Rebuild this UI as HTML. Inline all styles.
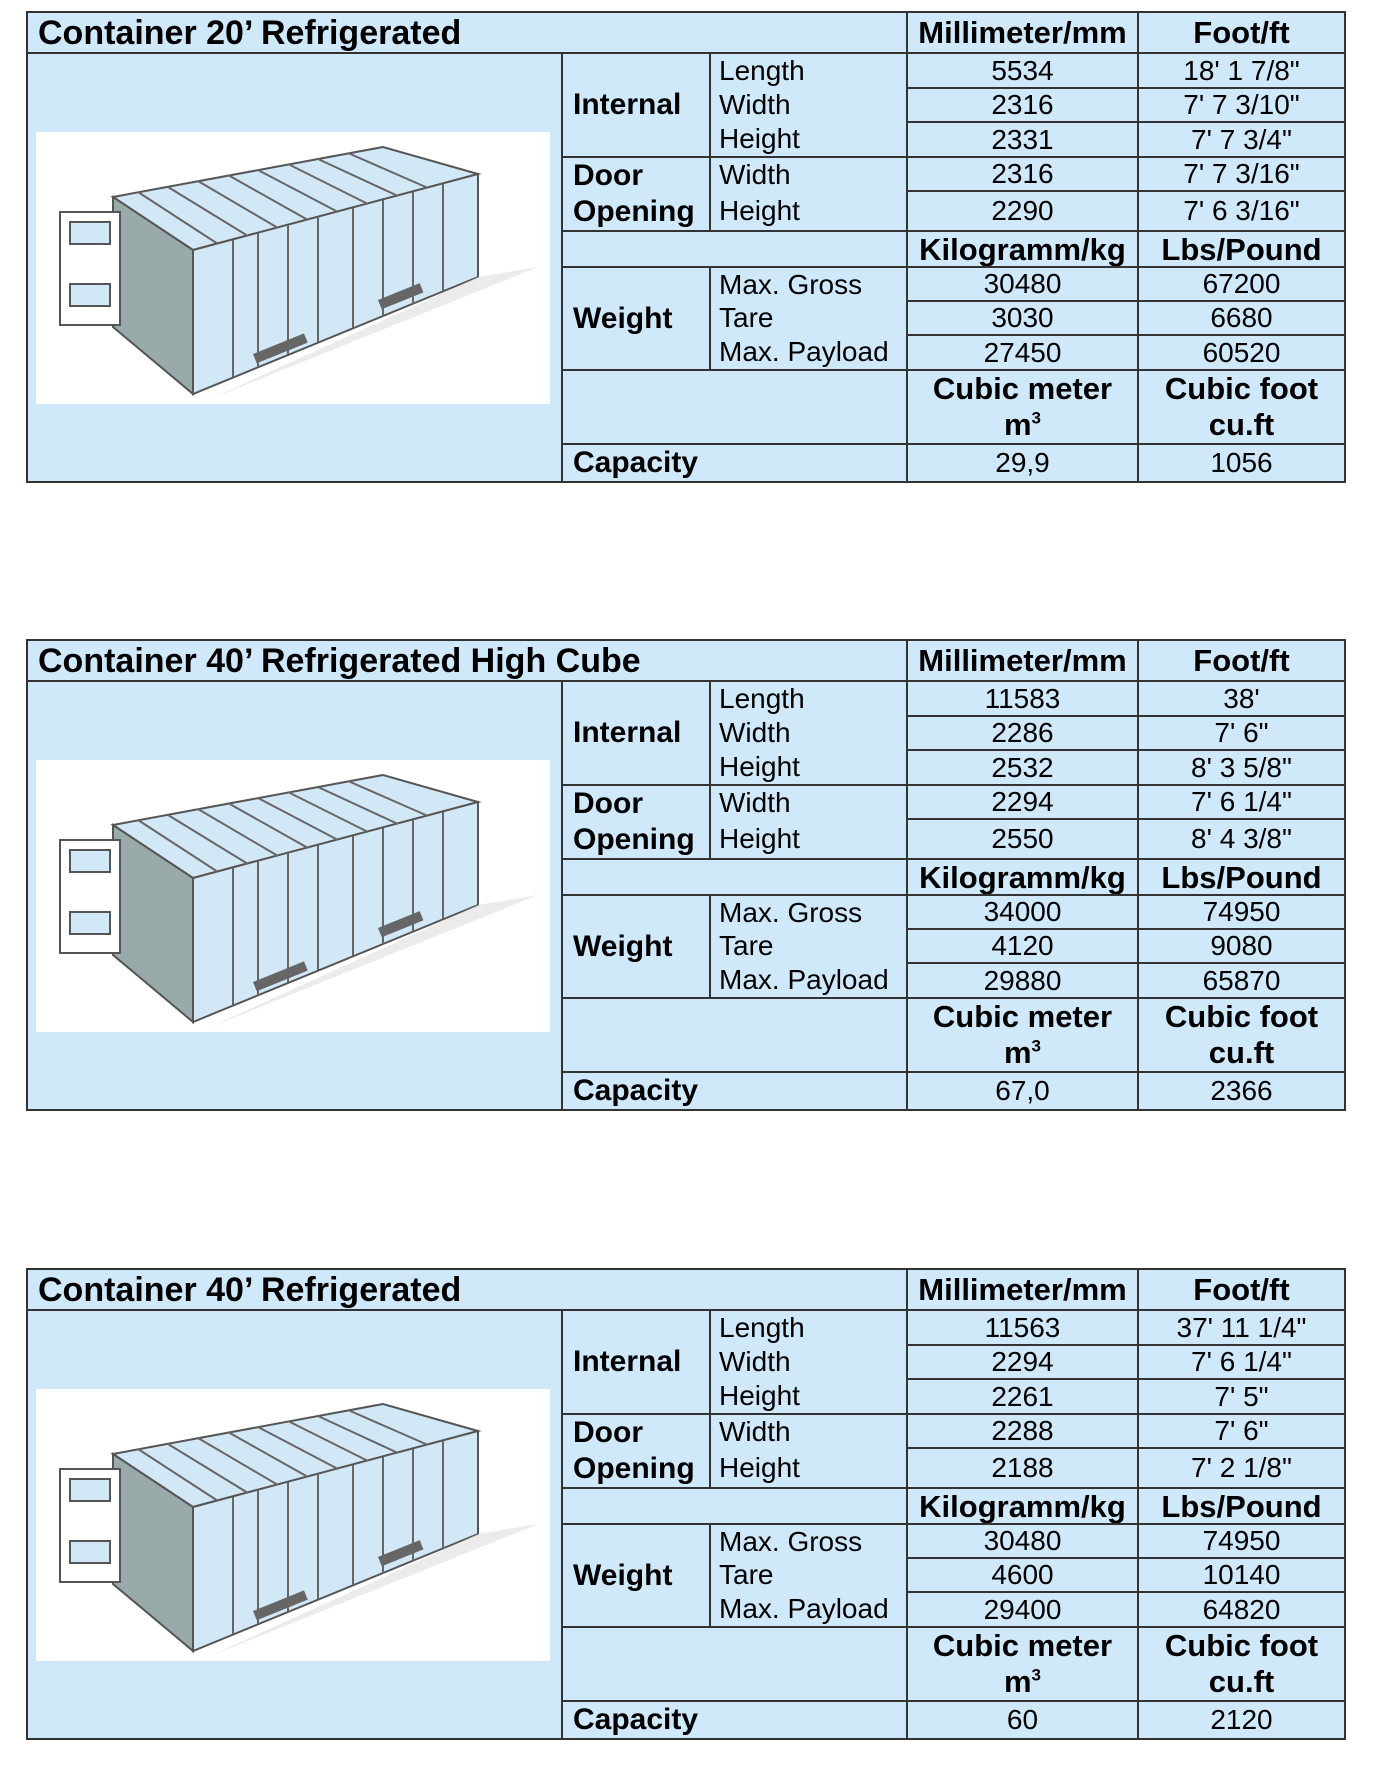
<!DOCTYPE html>
<html><head><meta charset="utf-8">
<style>
body{margin:0;background:#fff;width:1400px;height:1772px;position:relative;font-family:"Liberation Sans",Arial,sans-serif;}
table{position:absolute;left:26px;border-collapse:collapse;table-layout:fixed;background:#cfe9fb;}
td{border:2px solid #333;padding:0;font-size:28px;color:#000;line-height:1;white-space:nowrap;overflow:hidden;}
.b{font-weight:bold;font-size:30px}
.t{font-size:34px;font-weight:bold;padding-left:10px}
.c{text-align:center}
.l{padding-left:10px}
.s{padding-left:8px}
.nt{border-top:hidden}
.h{font-size:31px;font-weight:bold;text-align:center}
.img{vertical-align:middle;padding:0 8px}
</style></head><body>

<table style="top:11px">
<colgroup><col style="width:535px"><col style="width:148px"><col style="width:197px"><col style="width:231px"><col style="width:207px"></colgroup>
<tr style="height:41px"><td colspan="3" class="t">Container 20’ Refrigerated</td><td class="h">Millimeter/mm</td><td class="h">Foot/ft</td></tr>
<tr style="height:35px"><td rowspan="11" class="img"><svg width="514" height="272" viewBox="0 0 510 272" style="display:block;background:#fff"><g stroke="#555" stroke-width="2" fill="#d3e8f6"><polygon points="75,65 345,15 440,42 155,118"/><polygon points="155,118 440,42 440,145 155,262"/><polygon points="75,65 155,118 155,262 75,195" fill="#9aa"/><rect x="22" y="80" width="60" height="113" fill="#fff"/><rect x="32" y="90" width="40" height="22"/><rect x="32" y="152" width="40" height="22"/></g><polygon points="440,145 500,135 170,268" fill="#ddd" opacity=".6"/><g stroke="#666" stroke-width="2"><line x1="100" y1="60" x2="180" y2="112"/><line x1="130" y1="55" x2="210" y2="104"/><line x1="160" y1="49" x2="240" y2="96"/><line x1="190" y1="43" x2="270" y2="88"/><line x1="220" y1="38" x2="300" y2="80"/><line x1="250" y1="32" x2="330" y2="72"/><line x1="280" y1="27" x2="360" y2="64"/><line x1="310" y1="21" x2="390" y2="56"/><line x1="195" y1="108" x2="195" y2="245"/><line x1="220" y1="101" x2="220" y2="235"/><line x1="250" y1="93" x2="250" y2="222"/><line x1="280" y1="85" x2="280" y2="210"/><line x1="315" y1="76" x2="315" y2="196"/><line x1="345" y1="68" x2="345" y2="184"/><line x1="375" y1="60" x2="375" y2="172"/><line x1="405" y1="52" x2="405" y2="159"/></g><rect x="215" y="222" width="55" height="10" fill="#666" transform="rotate(-22 215 222)"/><rect x="340" y="168" width="45" height="10" fill="#666" transform="rotate(-22 340 168)"/></svg></td><td rowspan="3" class="b l">Internal</td><td class="s">Length</td><td class="c">5534</td><td class="c">18' 1 7/8"</td></tr>
<tr style="height:34px"><td class="s nt">Width</td><td class="c">2316</td><td class="c">7' 7 3/10"</td></tr>
<tr style="height:35px"><td class="s nt">Height</td><td class="c">2331</td><td class="c">7' 7 3/4"</td></tr>
<tr style="height:34px"><td rowspan="2" class="b l" style="line-height:1.2">Door<br>Opening</td><td class="s">Width</td><td class="c">2316</td><td class="c">7' 7 3/16"</td></tr>
<tr style="height:40px"><td class="s nt">Height</td><td class="c">2290</td><td class="c">7' 6 3/16"</td></tr>
<tr style="height:36px"><td colspan="2"></td><td class="h">Kilogramm/kg</td><td class="h">Lbs/Pound</td></tr>
<tr style="height:34px"><td rowspan="3" class="b l">Weight</td><td class="s">Max. Gross</td><td class="c">30480</td><td class="c">67200</td></tr>
<tr style="height:34px"><td class="s nt">Tare</td><td class="c">3030</td><td class="c">6680</td></tr>
<tr style="height:35px"><td class="s nt">Max. Payload</td><td class="c">27450</td><td class="c">60520</td></tr>
<tr style="height:74px"><td colspan="2"></td><td class="h" style="line-height:1.15">Cubic meter<br>m<sup style="font-size:17px">3</sup></td><td class="h" style="line-height:1.15">Cubic foot<br>cu.ft</td></tr>
<tr style="height:38px"><td colspan="2" class="b l">Capacity</td><td class="c">29,9</td><td class="c">1056</td></tr>
</table>

<table style="top:639px">
<colgroup><col style="width:535px"><col style="width:148px"><col style="width:197px"><col style="width:231px"><col style="width:207px"></colgroup>
<tr style="height:41px"><td colspan="3" class="t">Container 40’ Refrigerated High Cube</td><td class="h">Millimeter/mm</td><td class="h">Foot/ft</td></tr>
<tr style="height:35px"><td rowspan="11" class="img"><svg width="514" height="272" viewBox="0 0 510 272" style="display:block;background:#fff"><g stroke="#555" stroke-width="2" fill="#d3e8f6"><polygon points="75,65 345,15 440,42 155,118"/><polygon points="155,118 440,42 440,145 155,262"/><polygon points="75,65 155,118 155,262 75,195" fill="#9aa"/><rect x="22" y="80" width="60" height="113" fill="#fff"/><rect x="32" y="90" width="40" height="22"/><rect x="32" y="152" width="40" height="22"/></g><polygon points="440,145 500,135 170,268" fill="#ddd" opacity=".6"/><g stroke="#666" stroke-width="2"><line x1="100" y1="60" x2="180" y2="112"/><line x1="130" y1="55" x2="210" y2="104"/><line x1="160" y1="49" x2="240" y2="96"/><line x1="190" y1="43" x2="270" y2="88"/><line x1="220" y1="38" x2="300" y2="80"/><line x1="250" y1="32" x2="330" y2="72"/><line x1="280" y1="27" x2="360" y2="64"/><line x1="310" y1="21" x2="390" y2="56"/><line x1="195" y1="108" x2="195" y2="245"/><line x1="220" y1="101" x2="220" y2="235"/><line x1="250" y1="93" x2="250" y2="222"/><line x1="280" y1="85" x2="280" y2="210"/><line x1="315" y1="76" x2="315" y2="196"/><line x1="345" y1="68" x2="345" y2="184"/><line x1="375" y1="60" x2="375" y2="172"/><line x1="405" y1="52" x2="405" y2="159"/></g><rect x="215" y="222" width="55" height="10" fill="#666" transform="rotate(-22 215 222)"/><rect x="340" y="168" width="45" height="10" fill="#666" transform="rotate(-22 340 168)"/></svg></td><td rowspan="3" class="b l">Internal</td><td class="s">Length</td><td class="c">11583</td><td class="c">38'</td></tr>
<tr style="height:34px"><td class="s nt">Width</td><td class="c">2286</td><td class="c">7' 6"</td></tr>
<tr style="height:35px"><td class="s nt">Height</td><td class="c">2532</td><td class="c">8' 3 5/8"</td></tr>
<tr style="height:34px"><td rowspan="2" class="b l" style="line-height:1.2">Door<br>Opening</td><td class="s">Width</td><td class="c">2294</td><td class="c">7' 6 1/4"</td></tr>
<tr style="height:40px"><td class="s nt">Height</td><td class="c">2550</td><td class="c">8' 4 3/8"</td></tr>
<tr style="height:36px"><td colspan="2"></td><td class="h">Kilogramm/kg</td><td class="h">Lbs/Pound</td></tr>
<tr style="height:34px"><td rowspan="3" class="b l">Weight</td><td class="s">Max. Gross</td><td class="c">34000</td><td class="c">74950</td></tr>
<tr style="height:34px"><td class="s nt">Tare</td><td class="c">4120</td><td class="c">9080</td></tr>
<tr style="height:35px"><td class="s nt">Max. Payload</td><td class="c">29880</td><td class="c">65870</td></tr>
<tr style="height:74px"><td colspan="2"></td><td class="h" style="line-height:1.15">Cubic meter<br>m<sup style="font-size:17px">3</sup></td><td class="h" style="line-height:1.15">Cubic foot<br>cu.ft</td></tr>
<tr style="height:38px"><td colspan="2" class="b l">Capacity</td><td class="c">67,0</td><td class="c">2366</td></tr>
</table>

<table style="top:1268px">
<colgroup><col style="width:535px"><col style="width:148px"><col style="width:197px"><col style="width:231px"><col style="width:207px"></colgroup>
<tr style="height:41px"><td colspan="3" class="t">Container 40’ Refrigerated</td><td class="h">Millimeter/mm</td><td class="h">Foot/ft</td></tr>
<tr style="height:35px"><td rowspan="11" class="img"><svg width="514" height="272" viewBox="0 0 510 272" style="display:block;background:#fff"><g stroke="#555" stroke-width="2" fill="#d3e8f6"><polygon points="75,65 345,15 440,42 155,118"/><polygon points="155,118 440,42 440,145 155,262"/><polygon points="75,65 155,118 155,262 75,195" fill="#9aa"/><rect x="22" y="80" width="60" height="113" fill="#fff"/><rect x="32" y="90" width="40" height="22"/><rect x="32" y="152" width="40" height="22"/></g><polygon points="440,145 500,135 170,268" fill="#ddd" opacity=".6"/><g stroke="#666" stroke-width="2"><line x1="100" y1="60" x2="180" y2="112"/><line x1="130" y1="55" x2="210" y2="104"/><line x1="160" y1="49" x2="240" y2="96"/><line x1="190" y1="43" x2="270" y2="88"/><line x1="220" y1="38" x2="300" y2="80"/><line x1="250" y1="32" x2="330" y2="72"/><line x1="280" y1="27" x2="360" y2="64"/><line x1="310" y1="21" x2="390" y2="56"/><line x1="195" y1="108" x2="195" y2="245"/><line x1="220" y1="101" x2="220" y2="235"/><line x1="250" y1="93" x2="250" y2="222"/><line x1="280" y1="85" x2="280" y2="210"/><line x1="315" y1="76" x2="315" y2="196"/><line x1="345" y1="68" x2="345" y2="184"/><line x1="375" y1="60" x2="375" y2="172"/><line x1="405" y1="52" x2="405" y2="159"/></g><rect x="215" y="222" width="55" height="10" fill="#666" transform="rotate(-22 215 222)"/><rect x="340" y="168" width="45" height="10" fill="#666" transform="rotate(-22 340 168)"/></svg></td><td rowspan="3" class="b l">Internal</td><td class="s">Length</td><td class="c">11563</td><td class="c">37' 11 1/4"</td></tr>
<tr style="height:34px"><td class="s nt">Width</td><td class="c">2294</td><td class="c">7' 6 1/4"</td></tr>
<tr style="height:35px"><td class="s nt">Height</td><td class="c">2261</td><td class="c">7' 5"</td></tr>
<tr style="height:34px"><td rowspan="2" class="b l" style="line-height:1.2">Door<br>Opening</td><td class="s">Width</td><td class="c">2288</td><td class="c">7' 6"</td></tr>
<tr style="height:40px"><td class="s nt">Height</td><td class="c">2188</td><td class="c">7' 2 1/8"</td></tr>
<tr style="height:36px"><td colspan="2"></td><td class="h">Kilogramm/kg</td><td class="h">Lbs/Pound</td></tr>
<tr style="height:34px"><td rowspan="3" class="b l">Weight</td><td class="s">Max. Gross</td><td class="c">30480</td><td class="c">74950</td></tr>
<tr style="height:34px"><td class="s nt">Tare</td><td class="c">4600</td><td class="c">10140</td></tr>
<tr style="height:35px"><td class="s nt">Max. Payload</td><td class="c">29400</td><td class="c">64820</td></tr>
<tr style="height:74px"><td colspan="2"></td><td class="h" style="line-height:1.15">Cubic meter<br>m<sup style="font-size:17px">3</sup></td><td class="h" style="line-height:1.15">Cubic foot<br>cu.ft</td></tr>
<tr style="height:38px"><td colspan="2" class="b l">Capacity</td><td class="c">60</td><td class="c">2120</td></tr>
</table>
</body></html>
